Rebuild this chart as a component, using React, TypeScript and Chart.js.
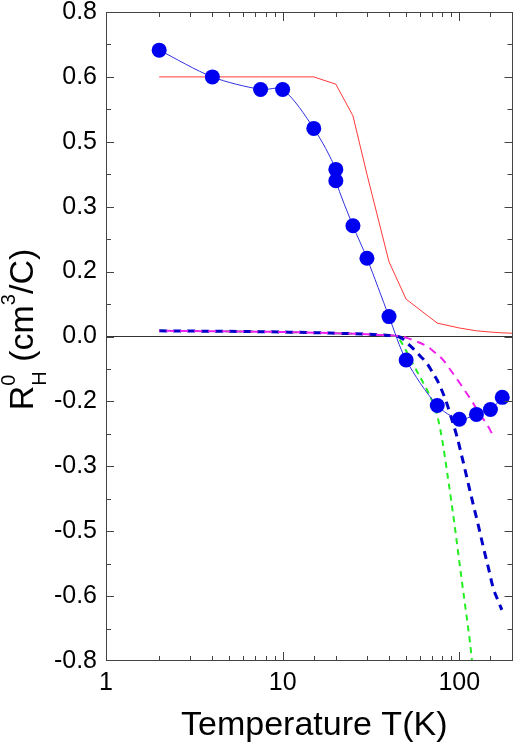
import React, { useEffect, useRef } from "react";
import { Chart, registerables } from "chart.js";

Chart.register(...registerables);

// ---- data ----
const measuredT = [2, 4, 7.5, 10, 15, 20, 20, 25, 30, 40, 50, 75, 100, 125, 150, 175];
const measuredR = [0.706, 0.64, 0.609, 0.609, 0.513, 0.412, 0.384, 0.273, 0.193, 0.049, -0.058, -0.17, -0.204, -0.192, -0.18, -0.15];

const redT = [2, 4, 7.5, 10, 15, 20, 25, 30, 40, 50, 75, 100, 125, 150, 175, 200];
const redR = [0.64, 0.64, 0.64, 0.64, 0.64, 0.622, 0.544, 0.4, 0.184, 0.092, 0.033, 0.021, 0.014, 0.011, 0.009, 0.008];

const greenT = [2, 4, 7, 10, 15, 20, 25, 30, 35, 40, 44, 50, 55, 60, 65, 70, 75, 80, 85, 90, 95, 100, 105, 110, 115, 118];
const greenR = [0.014, 0.013, 0.012, 0.011, 0.0095, 0.008, 0.0068, 0.0055, 0.004, 0.0025, 0.0, -0.035, -0.07, -0.1, -0.128, -0.158, -0.195, -0.255, -0.33, -0.405, -0.48, -0.555, -0.625, -0.69, -0.755, -0.8];

const blueDashT = [2, 4, 7, 10, 15, 20, 25, 30, 35, 40, 45, 48, 51, 56, 60, 66, 70, 75, 80, 85, 90, 97, 105, 112, 120, 128, 136, 146, 156, 166, 174];
const blueDashR = [0.014, 0.013, 0.012, 0.011, 0.0095, 0.008, 0.0068, 0.0055, 0.004, 0.0025, 0.0, -0.006, -0.017, -0.034, -0.048, -0.068, -0.086, -0.108, -0.135, -0.165, -0.2, -0.247, -0.308, -0.36, -0.415, -0.465, -0.515, -0.57, -0.622, -0.652, -0.674];

const magentaT = [2, 4, 7, 10, 15, 20, 25, 30, 35, 40, 46, 51, 58, 66, 73, 81, 90, 101, 110, 120, 130, 142, 150, 158];
const magentaR = [0.014, 0.013, 0.012, 0.011, 0.0095, 0.008, 0.0068, 0.0055, 0.004, 0.0025, 0.001, -0.004, -0.013, -0.025, -0.04, -0.058, -0.085, -0.116, -0.14, -0.165, -0.19, -0.214, -0.232, -0.251];

const zeroT = [1, 200];
const zeroR = [0, 0];

const xMin = 1;
const xMax = 200;
const yMin = -0.8;
const yMax = 0.8;
const yStep = 0.16;

const xTitle = "Temperature T(K)";
const yTitleMain = "R";
const yTitleSup0 = "0";
const yTitleSubH = "H";
const yTitleMid = " (cm";
const yTitleSup3 = "3";
const yTitleEnd = "/C)";

const FONT = 'Arial, "Liberation Sans", Helvetica, sans-serif';

const pts = (xs: number[], ys: number[]) => xs.map((x, i) => ({ x, y: ys[i] }));

const isDecade = (v: number) => {
  const l = Math.log10(v);
  return Math.abs(l - Math.round(l)) < 1e-6;
};

const decorPlugin = {
  id: "decor",
  afterDraw(chart: any) {
    const { ctx, chartArea: a, scales } = chart;
    const xs = scales.x;
    const ys = scales.y;
    ctx.save();
    ctx.strokeStyle = "#444";
    ctx.lineWidth = 1;
    // frame
    ctx.strokeRect(Math.round(a.left) + 0.5, Math.round(a.top) + 0.5, Math.round(a.right - a.left) - 1, Math.round(a.bottom - a.top) - 1);
    ctx.beginPath();
    // x ticks (bottom and top, inward)
    for (const t of xs.ticks) {
      const v = t.value;
      if (v <= xMin || v >= xMax) continue;
      const px = Math.round(xs.getPixelForValue(v)) + 0.5;
      const len = isDecade(v) ? 9 : 5;
      ctx.moveTo(px, a.bottom);
      ctx.lineTo(px, a.bottom - len);
      ctx.moveTo(px, a.top);
      ctx.lineTo(px, a.top + len);
    }
    // y ticks (left and right, inward)
    const yt = ys.ticks.map((t: any) => t.value);
    for (let i = 0; i < yt.length; i++) {
      const v = yt[i];
      const py = Math.round(ys.getPixelForValue(v)) + 0.5;
      if (v > yMin + 1e-9 && v < yMax - 1e-9) {
        ctx.moveTo(a.left, py);
        ctx.lineTo(a.left + 8, py);
        ctx.moveTo(a.right, py);
        ctx.lineTo(a.right - 8, py);
      }
      if (i < yt.length - 1) {
        const mv = (yt[i] + yt[i + 1]) / 2;
        const my = Math.round(ys.getPixelForValue(mv)) + 0.5;
        ctx.moveTo(a.left, my);
        ctx.lineTo(a.left + 5, my);
        ctx.moveTo(a.right, my);
        ctx.lineTo(a.right - 5, my);
      }
    }
    ctx.stroke();

    // x title
    ctx.fillStyle = "#000";
    ctx.font = `34px ${FONT}`;
    ctx.textAlign = "center";
    ctx.textBaseline = "alphabetic";
    ctx.fillText(xTitle, (a.left + a.right) / 2 + 5, 735);

    // y title with sub/superscripts
    const mainF = `34px ${FONT}`;
    const smallF = `20px ${FONT}`;
    ctx.textAlign = "left";
    ctx.font = mainF;
    const wR = ctx.measureText(yTitleMain).width;
    const wMid = ctx.measureText(yTitleMid).width;
    const wEnd = ctx.measureText(yTitleEnd).width;
    ctx.font = smallF;
    const wStack = Math.max(ctx.measureText(yTitleSup0).width, ctx.measureText(yTitleSubH).width);
    const w3 = ctx.measureText(yTitleSup3).width;
    const total = wR + wStack + wMid + w3 + wEnd;
    const cy = (a.top + a.bottom) / 2 - 7;
    ctx.translate(33, cy + total / 2);
    ctx.rotate(-Math.PI / 2);
    let pos = 0;
    ctx.font = mainF;
    ctx.fillText(yTitleMain, pos, 0);
    pos += wR;
    ctx.font = smallF;
    ctx.fillText(yTitleSup0, pos, -18);
    ctx.fillText(yTitleSubH, pos, 13);
    pos += wStack;
    ctx.font = mainF;
    ctx.fillText(yTitleMid, pos, 0);
    pos += wMid;
    ctx.font = smallF;
    ctx.fillText(yTitleSup3, pos, -18);
    pos += w3;
    ctx.font = mainF;
    ctx.fillText(yTitleEnd, pos, 0);
    ctx.restore();
  },
};

export default function App() {
  const ref = useRef<HTMLCanvasElement | null>(null);

  useEffect(() => {
    document.body.style.margin = "0";
    if (!ref.current) return;
    const chart = new Chart(ref.current, {
      type: "scatter",
      data: {
        datasets: [
          {
            label: "measured",
            data: pts(measuredT, measuredR),
            showLine: true,
            borderColor: "#3030e0",
            borderWidth: 1,
            backgroundColor: "#0000f0",
            pointBackgroundColor: "#0000f0",
            pointBorderColor: "#0000f0",
            pointRadius: 7.5,
            pointBorderWidth: 0,
            tension: 0.3,
          },
          {
            label: "magenta",
            data: pts(magentaT, magentaR),
            showLine: true,
            borderColor: "#f020f0",
            borderWidth: 2,
            borderDash: [8, 6],
            borderDashOffset: 7,
            pointRadius: 0,
            cubicInterpolationMode: "monotone",
          },
          {
            label: "blueDash",
            data: pts(blueDashT, blueDashR),
            showLine: true,
            borderColor: "#0000c8",
            borderWidth: 3,
            borderDash: [8, 6],
            pointRadius: 0,
            cubicInterpolationMode: "monotone",
          },
          {
            label: "green",
            data: pts(greenT, greenR),
            showLine: true,
            borderColor: "#22ee22",
            borderWidth: 2,
            borderDash: [6, 5],
            pointRadius: 0,
            cubicInterpolationMode: "monotone",
          },
          {
            label: "red",
            data: pts(redT, redR),
            showLine: true,
            borderColor: "#ff3838",
            borderWidth: 1,
            pointRadius: 0,
            tension: 0,
          },
          {
            label: "zero",
            data: pts(zeroT, zeroR),
            showLine: true,
            borderColor: "#333333",
            borderWidth: 1,
            pointRadius: 0,
          },
        ] as any,
      },
      options: {
        animation: false,
        responsive: false,
        maintainAspectRatio: false,
        layout: { padding: { top: 12, right: 1, left: 0, bottom: 0 } },
        plugins: { legend: { display: false }, tooltip: { enabled: false } },
        scales: {
          x: {
            type: "logarithmic",
            min: xMin,
            max: xMax,
            grid: { display: false, drawTicks: false },
            border: { display: false },
            ticks: {
              autoSkip: false,
              maxRotation: 0,
              padding: 7,
              color: "#000",
              font: { family: FONT, size: 25 },
              callback: (v: any) => (isDecade(Number(v)) ? String(Math.round(Number(v))) : ""),
            },
            afterFit: (s: any) => {
              s.height = 83;
              s.paddingLeft = 0;
              s.paddingRight = 0;
            },
          },
          y: {
            type: "linear",
            min: yMin,
            max: yMax,
            grid: { display: false, drawTicks: false },
            border: { display: false },
            ticks: {
              stepSize: yStep,
              padding: 9,
              color: "#000",
              font: { family: FONT, size: 25 },
              callback: (v: any) => {
                const n = Number(v);
                return Math.abs(n) < 1e-9 ? "0.0" : n.toFixed(1);
              },
            },
            afterFit: (s: any) => {
              s.width = 106;
              s.paddingTop = 0;
              s.paddingBottom = 0;
            },
          },
        } as any,
      },
      plugins: [decorPlugin],
    });
    return () => chart.destroy();
  }, []);

  return (
    <div style={{ width: 520, height: 744 }}>
      <canvas ref={ref} width={520} height={744} />
    </div>
  );
}
